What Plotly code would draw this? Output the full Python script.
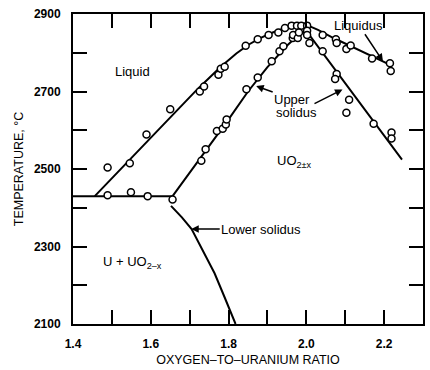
import plotly.graph_objects as go

# ---- data ----
liquidus_x = [1.456, 1.60, 1.72, 1.78, 1.82, 1.85, 1.88, 1.91, 1.94, 1.965, 1.985, 2.005, 2.03, 2.07, 2.213]
liquidus_t = [2430, 2582, 2706, 2764, 2798, 2820, 2837, 2851, 2862, 2869, 2872, 2870, 2859, 2838, 2770]

upper_solidus_x = [1.656, 1.70, 1.75, 1.80, 1.85, 1.90, 1.95, 1.975, 1.99, 2.0, 2.01, 2.246]
upper_solidus_t = [2430, 2490, 2560, 2628, 2700, 2763, 2818, 2842, 2852, 2853, 2843, 2524]

plateau_x = [1.40, 1.656]
plateau_t = [2430, 2430]

lower_solidus_x = [1.652, 1.68, 1.705, 1.734, 1.764, 1.789, 1.813, 1.818]
lower_solidus_t = [2405, 2375, 2345, 2290, 2231, 2171, 2108, 2100]

points_x = [1.489, 1.549, 1.592, 1.656,
            1.489, 1.546, 1.589, 1.650, 1.726, 1.737, 1.774, 1.780, 1.790,
            1.844, 1.875, 1.903, 1.928, 1.945, 1.962, 1.976, 1.987, 2.002,
            2.042, 2.076, 2.078, 2.103, 2.114, 2.169, 2.215, 2.217,
            1.730, 1.741, 1.770, 1.785, 1.793, 1.795, 1.846, 1.875, 1.911,
            1.931, 1.941, 1.965, 1.966, 1.978, 1.981, 2.002, 2.002,
            2.008, 2.042, 2.078, 2.074, 2.110, 2.103, 2.173, 2.219, 2.219]
points_t = [2432, 2440, 2430, 2421,
            2504, 2515, 2589, 2654, 2700, 2713, 2743, 2759, 2764,
            2818, 2835, 2846, 2852, 2864, 2870, 2870, 2870, 2870,
            2846, 2835, 2825, 2810, 2819, 2785, 2773, 2753,
            2521, 2551, 2598, 2604, 2615, 2628, 2706, 2736, 2778,
            2804, 2817, 2838, 2846, 2838, 2852, 2857, 2846,
            2825, 2804, 2745, 2732, 2679, 2645, 2617, 2594, 2579]

x_tickvals = [1.4, 1.5, 1.6, 1.7, 1.8, 1.9, 2.0, 2.1, 2.2]
x_ticktext = ["<b>1.4</b>", "", "<b>1.6</b>", "", "<b>1.8</b>", "", "<b>2.0</b>", "", "<b>2.2</b>"]
y_tickvals = [2100, 2200, 2300, 2400, 2500, 2600, 2700, 2800, 2900]
y_ticktext = ["<b>2100</b>", "", "<b>2300</b>", "", "<b>2500</b>", "", "<b>2700</b>", "", "<b>2900</b>"]

FONT = "Liberation Sans, Arial, sans-serif"

fig = go.Figure()
for xs, ts in [(liquidus_x, liquidus_t), (upper_solidus_x, upper_solidus_t),
               (plateau_x, plateau_t), (lower_solidus_x, lower_solidus_t)]:
    fig.add_trace(go.Scatter(x=xs, y=ts, mode="lines", line=dict(color="black", width=2)))

fig.add_trace(go.Scatter(x=points_x, y=points_t, mode="markers",
                         marker=dict(symbol="circle", size=7, color="white",
                                     line=dict(color="black", width=1.5))))

ann = []
def text(x, y, s, anchor="center"):
    ann.append(dict(x=x, y=y, text=s, showarrow=False, xanchor=anchor, yanchor="middle",
                    font=dict(family=FONT, size=13, color="black")))

def label_arrow(x, y, s, ax, ay):
    # label placed (ax, ay) pixels from the arrow head at (x, y)
    ann.append(dict(x=x, y=y, text=s, showarrow=True, ax=ax, ay=ay,
                    arrowhead=2, arrowsize=1, arrowwidth=1.5, arrowcolor="black",
                    font=dict(family=FONT, size=13, color="black")))

text(1.552, 2752, "Liquid")
text(1.97, 2520, "UO<sub>2±x</sub>")
text(1.552, 2260, "U + UO<sub>2–x</sub>")
label_arrow(2.197, 2778, "Liquidus", -24, -36)
label_arrow(1.871, 2714, "Upper", 36, 13)
label_arrow(2.093, 2705, "solidus", -46, 23)
label_arrow(1.704, 2345, "Lower solidus", 70, 0)

def axis(rng, vals, texts, standoff_lbl, title, title_standoff):
    return dict(range=rng, tickmode="array", tickvals=vals, ticktext=texts,
                ticks="inside", ticklen=14, tickwidth=2, tickcolor="black",
                showline=True, linewidth=2, linecolor="black", mirror="ticks",
                showgrid=False, zeroline=False, ticklabelstandoff=standoff_lbl,
                tickfont=dict(family=FONT, size=12, color="black"),
                title=dict(text=title, standoff=title_standoff,
                           font=dict(family=FONT, size=12.5, color="black")))

fig.update_layout(
    width=430, height=370,
    margin=dict(l=73, r=5, t=14, b=43),
    plot_bgcolor="white", paper_bgcolor="white",
    showlegend=False,
    annotations=ann,
    xaxis=axis([1.4, 2.3], x_tickvals, x_ticktext, 8, "OXYGEN–TO–URANIUM RATIO", 5),
    yaxis=axis([2100, 2900], y_tickvals, y_ticktext, 8, "TEMPERATURE, °C", 8),
)

fig.write_html("out.html")
